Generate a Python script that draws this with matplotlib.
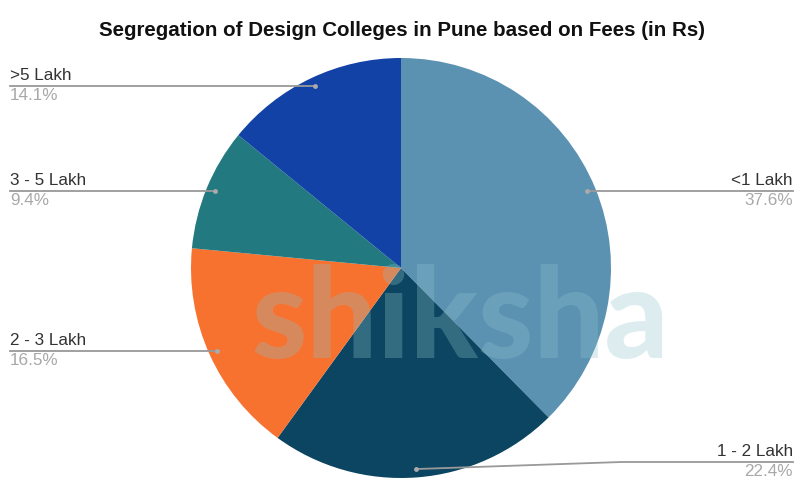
import numpy as np
import matplotlib
matplotlib.use('Agg')
import matplotlib.pyplot as plt

title='Segregation of Design Colleges in Pune based on Fees (in Rs)'
categories=['<1 Lakh','1 - 2 Lakh','2 - 3 Lakh','3 - 5 Lakh','>5 Lakh']
shares=[37.6,22.4,16.5,9.4,14.1]
colors=['#5b91b1','#0c4562','#f7712f','#227a80','#1342a6']

W,H=804,492
cx,cy,r=401,H-268,210

plt.rcParams['font.family']=['Liberation Sans','DejaVu Sans']
fig=plt.figure(figsize=(W/100,H/100),dpi=100)
ax=fig.add_axes([0,0,1,1])
wedges,_=ax.pie(shares,colors=colors,startangle=90,counterclock=False,
	center=(cx,cy),radius=r,wedgeprops=dict(linewidth=0))
ax.set_xlim(0,W)
ax.set_ylim(0,H)
ax.set_aspect('equal')
ax.axis('off')

#faint watermark on top of the pie
ax.text(460,H-358,'shiksha',fontsize=90,fontweight='black',family='Lato',
	color='#8fc3cc',alpha=0.3,ha='center',va='baseline',zorder=5)

fig.text(0.5,1-30/H,title,ha='center',va='center',fontsize=14.8,fontweight='bold',color='#111111')

for w,name,val in zip(wedges,categories,shares):
	mid=np.deg2rad((w.theta1+w.theta2)/2)
	dx,dy=cx+0.96*r*np.cos(mid),cy+0.96*r*np.sin(mid)
	ly=max(dy,H-462)
	if np.cos(mid)>0:
		xe=793
		bend=min(xe,dx+205) if ly!=dy else dx
		ax.plot([dx,bend,xe],[dy,ly,ly],color='#999999',lw=1.3,zorder=6)
		ha='right'
	else:
		xe=10
		ax.plot([dx,xe],[dy,ly],color='#999999',lw=1.3,zorder=6)
		ha='left'
	ax.plot(dx,dy,'o',ms=3.5,color='#aaaaaa',mec='none',zorder=7)
	ax.text(xe,ly+3,name,ha=ha,va='bottom',fontsize=12.3,color='#333333',zorder=7)
	ax.text(xe,ly-2,'%.1f%%'%val,ha=ha,va='top',fontsize=12.3,color='#a8a8a8',zorder=7)

fig.savefig('out.png',dpi=100,facecolor='white')
